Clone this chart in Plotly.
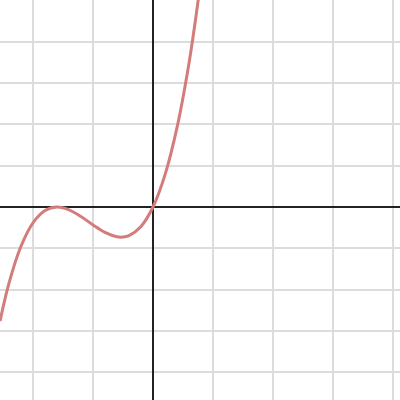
import plotly.graph_objects as go

xs = [-2.55, -2.4, -2.2, -2.0, -1.8, -1.6, -1.4, -1.2, -1.0, -0.8, -0.6, -0.5, -0.4, -0.2, 0.0, 0.2, 0.4, 0.6, 0.75, 0.8]
ys = [-2.76, -1.84, -0.95, -0.384, -0.086, 0.0, -0.067, -0.23, -0.432, -0.614, -0.72, -0.726, -0.691, -0.47, 0.0, 0.778, 1.92, 3.48, 4.97, 5.53]

fig = go.Figure(go.Scatter(x=xs, y=ys, mode="lines", line=dict(color="#d47b7b", width=3, shape="spline")))
ax = dict(showticklabels=False, showgrid=True, gridcolor="#dcdcdc", gridwidth=1.5, dtick=1, tick0=0,
          zeroline=True, zerolinecolor="#222", zerolinewidth=1.6, showline=False, ticks="", fixedrange=True)
fig.update_xaxes(range=[-2.55, 4.117], **ax)
fig.update_yaxes(range=[-4.67, 5.01], **ax)
fig.update_layout(width=400, height=400, margin=dict(l=0, r=0, t=0, b=0), plot_bgcolor="white",
                  paper_bgcolor="white", showlegend=False)
fig.write_html("out.html", config={"displayModeBar": False},
               post_script="document.body.style.margin='0';document.body.style.padding='0';")
